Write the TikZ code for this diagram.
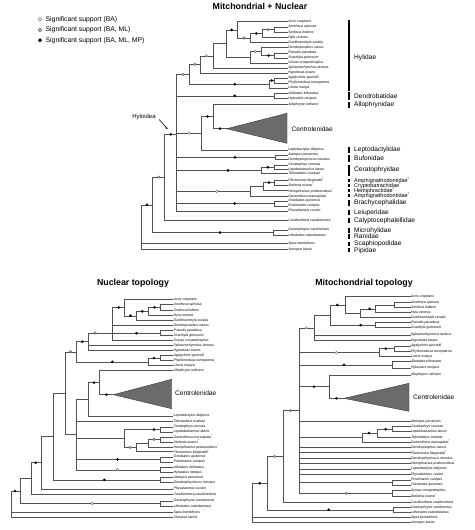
\documentclass[tikz,border=0pt]{standalone}
\usepackage{fontspec}
\setmainfont{Liberation Sans}
\usetikzlibrary{arrows.meta}
\definecolor{linec}{gray}{0.32}
\definecolor{trifill}{gray}{0.42}
\newcommand{\taxfont}{\fontsize{3.5}{4}\selectfont\itshape}
\newcommand{\famfont}{\fontsize{6.6}{7}\selectfont}
\newcommand{\famsmall}{\fontsize{5.5}{6}\selectfont}
\newcommand{\ttlfont}{\fontsize{8.8}{10}\selectfont\bfseries}
\newcommand{\legfont}{\fontsize{6.8}{8}\selectfont}
\newcommand{\TipN}[4]{\node[tip] (#1) at (#2,#3) {#4};}
\newcommand{\CoN}[3]{\coordinate (#1) at (#2,#3);}
\newcommand{\EdG}[2]{\draw[br] (#1) |- (#2);}
\newcommand{\DotB}[3]{\node[dotb] (#1) at (#2,#3) {};}
\newcommand{\DotG}[3]{\node[dotg] (#1) at (#2,#3) {};}
\newcommand{\DotW}[3]{\node[dotw] (#1) at (#2,#3) {};}
\newcommand{\FamN}[3]{\node[fam] (#1) at (354,#2) {#3};}
\newcommand{\FamS}[3]{\node[famsm] (#1) at (354,#2) {#3};}
\newcommand{\Ast}{\textsuperscript{*}}
\tikzset{
 br/.style={draw=linec, line width=0.5pt},
 tip/.style={anchor=west, inner sep=0.4pt, outer sep=0pt, font=\taxfont},
 fam/.style={anchor=west, inner sep=0pt, font=\famfont},
 famsm/.style={anchor=west, inner sep=0pt, font=\famsmall},
 bar/.style={draw=black, line width=1.5pt},
 dotb/.style={circle, fill=black, draw=black, line width=0.2pt, inner sep=0pt, minimum size=2.5pt},
 dotg/.style={circle, fill=gray!55, draw=black!70, line width=0.3pt, inner sep=0pt, minimum size=2.6pt},
 dotw/.style={circle, fill=white, draw=black!65, line width=0.35pt, inner sep=0pt, minimum size=2.7pt},
 tri/.style={fill=trifill, draw=black!80, line width=0.4pt},
 ttl/.style={font=\ttlfont, inner sep=0pt},
 leg/.style={anchor=west, font=\legfont, inner sep=0pt},
}
\begin{document}
\begin{tikzpicture}[x=1pt,y=-1pt]
\useasboundingbox (0,0) rectangle (474,530);

% ---------------- titles and legend ----------------
\node[ttl] (t1) at (260,6) {Mitchondrial + Nuclear};
\node[ttl] (t2) at (133,283.5) {Nuclear topology};
\node[ttl] (t3) at (364,283.5) {Mitochondrial topology};

\node[dotw, minimum size=3.8pt] (lg1) at (40,19.3) {};
\node[dotg, minimum size=3.8pt] (lg2) at (40,30) {};
\node[dotb, minimum size=3.8pt] (lg3) at (40,40.3) {};
\node[leg] (lt1) at (45.5,19.3) {Significant support (BA)};
\node[leg] (lt2) at (45.5,30) {Significant support (BA, ML)};
\node[leg] (lt3) at (45.5,40.3) {Significant support (BA, ML, MP)};

% ================= TOP TREE =================
\TipN{aAcr}{288}{21.7}{Acris crepitans}
\TipN{aAno}{288}{27}{Anotheca spinosa}
\TipN{aSmi}{288}{32.2}{Smilisca fodiens}
\TipN{aHyl}{288}{37.4}{Hyla cinerea}
\TipN{aDue}{288}{42.6}{Duellmanohyla soralia}
\TipN{aDen}{288}{47.7}{Dendropsophus nanus}
\TipN{aPse}{288}{53}{Pseudis paradoxa}
\TipN{aSca}{288}{57.9}{Scarthyla goinorum}
\TipN{aSci}{288}{62.8}{Scinax crospedospilus}
\TipN{aSph}{288}{68}{Sphaenorhynchus lacteus}
\TipN{aHyp}{288}{73}{Hypsiboas boans}
\TipN{aAga}{288}{77.9}{Agalychnis spurrelli}
\TipN{aPhy}{288}{83}{Phyllomedusa tomopterna}
\TipN{aLit}{288}{88}{Litoria manya}
\TipN{aAll}{288}{93.3}{Allobates trilineatus}
\TipN{aHyx}{288}{98.3}{Hyloxalus nexipus}
\TipN{aAlp}{288}{104.3}{Allophryne ruthveni}
\TipN{aLep}{288}{150}{Leptodactylus didymus}
\TipN{aAte}{288}{155}{Atelopus peruensis}
\TipN{aDdr}{288}{159.6}{Dendrophryniscus minutus}
\TipN{aCer}{288}{165}{Ceratophrys cornuta}
\TipN{aLpb}{288}{169.5}{Lepidobatrachus laevis}
\TipN{aTel}{288}{173.6}{Telmatobius truebae}
\TipN{aFle}{288}{180.2}{Flectonotus fitzgeraldi\Ast}
\TipN{aSte}{288}{185}{Stefania evansi\Ast}
\TipN{aHem}{288}{190.7}{Hemiphractus proboscideus\Ast}
\TipN{aGas}{288}{195.8}{Gastrotheca marsupiata\Ast}
\TipN{aOre}{288}{201}{Oreobates quixensis}
\TipN{aPri}{288}{206}{Pristimantis curtipes}
\TipN{aPhs}{288}{211}{Physalaemus cuvieri}
\TipN{aCau}{288}{220}{Caudiverbera caudiverbera}
\TipN{aGap}{288}{230}{Gastrophryne carolinensis}
\TipN{aLib}{288}{235}{Lithobates catesbeianus}
\TipN{aSpe}{288}{243.3}{Spea bombifrons}
\TipN{aXen}{288}{249.7}{Xenopus laevis}

\CoN{aAS}{274}{29.6}
\CoN{aASH}{262.3}{33.5}
\CoN{aASHD}{250}{38}
\CoN{aHylinae}{237.3}{29.9}
\CoN{aPS}{274}{55.5}
\CoN{aDPS}{261}{51.6}
\CoN{aB}{250}{57.2}
\CoN{aC}{226}{43.5}
\CoN{aSphn}{213.3}{55.8}
\CoN{aHypn}{200}{64.4}
\CoN{aAP}{274}{80.5}
\CoN{aAPL}{269.3}{84.2}
\CoN{aHylidae}{189.3}{74.3}
\CoN{aDendro}{274.7}{95.8}
\CoN{aAC}{213.3}{116.5}
\CoN{aACL}{201.7}{133.2}
\CoN{aBufo}{275}{157.3}
\CoN{aCL}{274}{167.2}
\CoN{aCLT}{261.7}{170.4}
\CoN{aFS}{274}{182.6}
\CoN{aFSH}{263.3}{186.6}
\CoN{aFSHG}{250.7}{191.2}
\CoN{aOP}{274}{203.5}
\CoN{aHyloidea}{176.7}{134.3}
\CoN{aN2}{164.7}{177.1}
\CoN{aMR}{273.3}{232.5}
\CoN{aN1}{152.7}{204.8}
\CoN{aRoot}{141}{230}
\CoN{aCap}{226.7}{128.7}
\CoN{aCt}{287}{113.3}
\CoN{aCb}{287}{143.3}

\EdG{aAS}{aAno.west} \EdG{aAS}{aSmi.west}
\EdG{aASH}{aAS} \EdG{aASH}{aHyl.west}
\EdG{aASHD}{aASH} \EdG{aASHD}{aDue.west}
\EdG{aHylinae}{aAcr.west} \EdG{aHylinae}{aASHD}
\EdG{aPS}{aPse.west} \EdG{aPS}{aSca.west}
\EdG{aDPS}{aDen.west} \EdG{aDPS}{aPS}
\EdG{aB}{aDPS} \EdG{aB}{aSci.west}
\EdG{aC}{aHylinae} \EdG{aC}{aB}
\EdG{aSphn}{aC} \EdG{aSphn}{aSph.west}
\EdG{aHypn}{aSphn} \EdG{aHypn}{aHyp.west}
\EdG{aAP}{aAga.west} \EdG{aAP}{aPhy.west}
\EdG{aAPL}{aAP} \EdG{aAPL}{aLit.west}
\EdG{aHylidae}{aHypn} \EdG{aHylidae}{aAPL}
\EdG{aDendro}{aAll.west} \EdG{aDendro}{aHyx.west}
\EdG{aAC}{aAlp.west} \EdG{aAC}{aCap}
\EdG{aACL}{aAC} \EdG{aACL}{aLep.west}
\EdG{aBufo}{aAte.west} \EdG{aBufo}{aDdr.west}
\EdG{aCL}{aCer.west} \EdG{aCL}{aLpb.west}
\EdG{aCLT}{aCL} \EdG{aCLT}{aTel.west}
\EdG{aFS}{aFle.west} \EdG{aFS}{aSte.west}
\EdG{aFSH}{aFS} \EdG{aFSH}{aHem.west}
\EdG{aFSHG}{aFSH} \EdG{aFSHG}{aGas.west}
\EdG{aOP}{aOre.west} \EdG{aOP}{aPri.west}
\EdG{aHyloidea}{aHylidae} \EdG{aHyloidea}{aDendro} \EdG{aHyloidea}{aACL}
\EdG{aHyloidea}{aBufo} \EdG{aHyloidea}{aCLT} \EdG{aHyloidea}{aFSHG}
\EdG{aHyloidea}{aOP} \EdG{aHyloidea}{aPhs.west}
\EdG{aN2}{aHyloidea} \EdG{aN2}{aCau.west}
\EdG{aMR}{aGap.west} \EdG{aMR}{aLib.west}
\EdG{aN1}{aN2} \EdG{aN1}{aMR}
\EdG{aRoot}{aN1} \EdG{aRoot}{aSpe.west} \EdG{aRoot}{aXen.west}
\filldraw[tri] (aCap) -- (aCt) -- (aCb) -- cycle;
\node[fam] (aCenL) at (291.5,128.7) {Centrolenidae};

\DotG{aq1}{268.3}{29.6}
\DotB{aq2}{256.3}{33.5}
\DotG{aq3}{244}{38}
\DotB{aq4}{231.6}{29.9}
\DotW{aq5}{255.5}{51.6}
\DotB{aq6}{268.5}{55.5}
\DotW{aq7}{206.7}{55.8}
\DotG{aq8}{194.7}{64.4}
\DotG{aq9}{183}{74.3}
\DotB{aq10}{234.7}{84.2}
\DotB{aq11}{271.7}{80.5}
\DotB{aq12}{234.7}{95.8}
\DotW{aq13}{189.3}{133.2}
\DotB{aq14}{207.5}{116.5}
\DotB{aq15}{220}{128.7}
\DotB{aq16}{170.7}{134.3}
\DotG{aq17}{158.7}{177.1}
\DotB{aq18}{147}{204.8}
\DotB{aq19}{235}{157.3}
\DotB{aq20}{228}{170.4}
\DotB{aq21}{267.8}{167.2}
\DotW{aq22}{216.7}{191.2}
\DotB{aq23}{269}{182.6}
\DotB{aq24}{234.7}{203.5}
\DotB{aq25}{220}{232.5}

% Hyloidea label
\node[font=\fontsize{6}{7}\selectfont, inner sep=0pt] (hyLbl) at (144,116.5) {Hyloidea};
\CoN{hyA}{159.3}{119.6}
\CoN{hyB}{167.6}{129.2}
\draw[-{Stealth[length=2.6pt,width=2.2pt]}, line width=0.6pt] (hyA) -- (hyB);

% family bars and labels
\draw[bar, line width=1.9pt] (349,19.5) -- (349,90.5);
\draw[bar] (349,91.8) -- (349,100);
\draw[bar] (349,102.3) -- (349,107.5);
\draw[bar] (349,147.3) -- (349,152.5);
\draw[bar] (349,155) -- (349,161.5);
\draw[bar] (349,164.5) -- (349,175.5);
\draw[bar] (349,178.6) -- (349,181.8);
\draw[bar] (349,183.8) -- (349,186.8);
\draw[bar] (349,189.2) -- (349,192.2);
\draw[bar] (349,194.3) -- (349,197.3);
\draw[bar] (349,200) -- (349,206);
\draw[bar] (349,209.8) -- (349,215);
\draw[bar] (349,218.3) -- (349,222.8);
\draw[bar] (349,228.2) -- (349,232.7);
\draw[bar] (349,234.3) -- (349,238.5);
\draw[bar] (349,242.2) -- (349,246.2);
\draw[bar] (349,248.3) -- (349,252.3);
\FamN{fHyl}{57.7}{Hylidae}
\FamN{fDen}{96.3}{Dendrobatidae}
\FamN{fAlp}{105}{Allophrynidae}
\FamN{fLep}{150}{Leptodactylidae}
\FamN{fBuf}{158.2}{Bufonidae}
\FamN{fCer}{170}{Ceratophryidae}
\FamS{fAm1}{180.3}{Amphignathodontidae\Ast}
\FamS{fCry}{185.3}{Cryptobatrachidae\Ast}
\FamS{fHem}{190.7}{Hemiphractidae\Ast}
\FamS{fAm2}{195.7}{Amphignathodontidae\Ast}
\FamN{fBra}{202.8}{Brachycephalidae}
\FamN{fLei}{212.5}{Leiuperidae}
\FamN{fCal}{220.7}{Calyptocephalellidae}
\FamN{fMic}{230.3}{Microhylidae}
\FamN{fRan}{236.5}{Ranidae}
\FamN{fSca}{244.2}{Scaphiopodidae}
\FamN{fPip}{250.3}{Pipidae}

% ================= BOTTOM-LEFT TREE (nuclear) =================
\TipN{bAcr}{173.3}{299.3}{Acris crepitans}
\TipN{bAno}{173.3}{304.7}{Anotheca spinosa}
\TipN{bSmi}{173.3}{310}{Smilisca fodiens}
\TipN{bHyl}{173.3}{315.3}{Hyla cinerea}
\TipN{bDue}{173.3}{320.3}{Duellmanohyla soralia}
\TipN{bDen}{173.3}{325.3}{Dendropsophus nanus}
\TipN{bPse}{173.3}{330.7}{Pseudis paradoxa}
\TipN{bSca}{173.3}{335.7}{Scarthyla goinorum}
\TipN{bSci}{173.3}{340.7}{Scinax crospedospilus}
\TipN{bSph}{173.3}{345.7}{Sphaenorhynchus lacteus}
\TipN{bHyp}{173.3}{350.5}{Hypsiboas boans}
\TipN{bAga}{173.3}{355.5}{Agalychnis spurrelli}
\TipN{bPhy}{173.3}{360.7}{Phyllomedusa tomopterna}
\TipN{bLit}{173.3}{365.7}{Litoria manya}
\TipN{bAlp}{173.3}{370.7}{Allophryne ruthveni}
\TipN{bLep}{173.3}{416}{Leptodactylus didymus}
\TipN{bTel}{173.3}{421}{Telmatobius truebae}
\TipN{bCer}{173.3}{427}{Ceratophrys cornuta}
\TipN{bLpb}{173.3}{432}{Lepidobatrachus laevis}
\TipN{bGas}{173.3}{436.8}{Gastrotheca marsupiata\Ast}
\TipN{bSte}{173.3}{442}{Stefania evansi\Ast}
\TipN{bHem}{173.3}{446.8}{Hemiphractus proboscideus\Ast}
\TipN{bFle}{173.3}{451.7}{Flectonotus fitzgeraldi\Ast}
\TipN{bOre}{173.3}{456.8}{Oreobates quixensis}
\TipN{bPri}{173.3}{462}{Pristimantis curtipes}
\TipN{bAll}{173.3}{467.2}{Allobates trilineatus}
\TipN{bHyx}{173.3}{472.3}{Hyloxalus nexipus}
\TipN{bAte}{173.3}{477.5}{Atelopus peruensis}
\TipN{bDdr}{173.3}{482.4}{Dendrophryniscus minutus}
\TipN{bPhs}{173.3}{488.8}{Physalaemus cuvieri}
\TipN{bCau}{173.3}{494.5}{Caudiverbera caudiverbera}
\TipN{bGap}{173.3}{501}{Gastrophryne carolinensis}
\TipN{bLib}{173.3}{506.3}{Lithobates catesbeianus}
\TipN{bSpe}{173.3}{512.3}{Spea bombifrons}
\TipN{bXen}{173.3}{517.3}{Xenopus laevis}

\CoN{bAS}{160}{307.3}
\CoN{bASH}{148.3}{311.3}
\CoN{bASHD}{136.3}{315.8}
\CoN{bHylinae}{124.3}{307.5}
\CoN{bPS}{160}{333.2}
\CoN{bHn}{112.3}{333}
\CoN{b88a}{88.3}{341.7}
\CoN{bAP}{160}{358.1}
\CoN{bAPL}{148.3}{361.9}
\CoN{b76a}{76.7}{351.8}
\CoN{bAC}{99.3}{382.7}
\CoN{b88b}{88.3}{399.3}
\CoN{bCL}{160}{429.5}
\CoN{bGS}{160}{439.4}
\CoN{bGSH}{148.3}{443.1}
\CoN{bH1}{136.3}{447.4}
\CoN{bC1}{124.3}{438.5}
\CoN{bOP}{160}{459.4}
\CoN{bDb}{160}{469.8}
\CoN{bS}{76.7}{434.5}
\CoN{bR}{65}{393.2}
\CoN{bBufo}{160}{479.9}
\CoN{bQ}{53.3}{436.5}
\CoN{bP}{41.7}{462.7}
\CoN{bN2}{31.7}{478.6}
\CoN{bMR}{160}{503.6}
\CoN{bN1}{20.7}{491.1}
\CoN{bRoot}{11}{504}
\CoN{bCap}{113.3}{394.7}
\CoN{bCt}{171.7}{379.3}
\CoN{bCb}{171.7}{408.7}

\EdG{bAS}{bAno.west} \EdG{bAS}{bSmi.west}
\EdG{bASH}{bAS} \EdG{bASH}{bHyl.west}
\EdG{bASHD}{bASH} \EdG{bASHD}{bDue.west}
\EdG{bHylinae}{bAcr.west} \EdG{bHylinae}{bASHD}
\EdG{bPS}{bPse.west} \EdG{bPS}{bSca.west}
\EdG{bHn}{bHylinae} \EdG{bHn}{bDen.west} \EdG{bHn}{bPS} \EdG{bHn}{bSci.west}
\EdG{b88a}{bHn} \EdG{b88a}{bSph.west} \EdG{b88a}{bHyp.west}
\EdG{bAP}{bAga.west} \EdG{bAP}{bPhy.west}
\EdG{bAPL}{bAP} \EdG{bAPL}{bLit.west}
\EdG{b76a}{b88a} \EdG{b76a}{bAPL}
\EdG{bAC}{bAlp.west} \EdG{bAC}{bCap}
\EdG{b88b}{bAC} \EdG{b88b}{bLep.west}
\EdG{bCL}{bCer.west} \EdG{bCL}{bLpb.west}
\EdG{bGS}{bGas.west} \EdG{bGS}{bSte.west}
\EdG{bGSH}{bGS} \EdG{bGSH}{bHem.west}
\EdG{bH1}{bGSH} \EdG{bH1}{bFle.west}
\EdG{bC1}{bCL} \EdG{bC1}{bH1}
\EdG{bOP}{bOre.west} \EdG{bOP}{bPri.west}
\EdG{bDb}{bAll.west} \EdG{bDb}{bHyx.west}
\EdG{bS}{b88b} \EdG{bS}{bTel.west} \EdG{bS}{bC1} \EdG{bS}{bOP} \EdG{bS}{bDb}
\EdG{bR}{b76a} \EdG{bR}{bS}
\EdG{bBufo}{bAte.west} \EdG{bBufo}{bDdr.west}
\EdG{bQ}{bR} \EdG{bQ}{bBufo}
\EdG{bP}{bQ} \EdG{bP}{bPhs.west}
\EdG{bN2}{bP} \EdG{bN2}{bCau.west}
\EdG{bMR}{bGap.west} \EdG{bMR}{bLib.west}
\EdG{bN1}{bN2} \EdG{bN1}{bMR}
\EdG{bRoot}{bN1} \EdG{bRoot}{bSpe.west} \EdG{bRoot}{bXen.west}
\filldraw[tri] (bCap) -- (bCt) -- (bCb) -- cycle;
\node[fam] (bCenL) at (175,393.3) {Centrolenidae};

\DotB{bq1}{154.5}{307.3}
\DotB{bq2}{142.3}{311.3}
\DotB{bq3}{130.5}{315.8}
\DotB{bq4}{118.7}{307.5}
\DotB{bq5}{136.5}{333.2}
\DotG{bq6}{95}{333}
\DotB{bq7}{82.3}{341.7}
\DotB{bq8}{154}{358.1}
\DotB{bq9}{112.3}{361.9}
\DotG{bq10}{70.7}{351.8}
\DotB{bq11}{94}{382.7}
\DotB{bq12}{106.5}{394.7}
\DotB{bq13}{154}{429.5}
\DotG{bq14}{154}{439.4}
\DotG{bq15}{130.3}{447.4}
\DotB{bq16}{117.5}{459.4}
\DotW{bq17}{117.5}{469.8}
\DotB{bq18}{104.3}{479.9}
\DotB{bq19}{35.7}{462.7}
\DotW{bq20}{92.3}{503.6}
\DotB{bq21}{15}{491.1}

% ================= BOTTOM-RIGHT TREE (mitochondrial) =================
\TipN{cAcr}{410.7}{296.7}{Acris crepitans}
\TipN{cAno}{410.7}{302.3}{Anotheca spinosa}
\TipN{cSmi}{410.7}{307.5}{Smilisca fodiens}
\TipN{cHyl}{410.7}{312.7}{Hyla cinerea}
\TipN{cDue}{410.7}{317.7}{Duellmanohyla soralia}
\TipN{cPse}{410.7}{322.7}{Pseudis paradoxa}
\TipN{cSca}{410.7}{327.5}{Scarthyla goinorum}
\TipN{cSph}{410.7}{335}{Sphaenorhynchus lacteus}
\TipN{cHyp}{410.7}{340.7}{Hypsiboas boans}
\TipN{cAga}{410.7}{346}{Agalychnis spurrelli}
\TipN{cPhy}{410.7}{351.3}{Phyllomedusa tomopterna}
\TipN{cLit}{410.7}{356.7}{Litoria manya}
\TipN{cAll}{410.7}{361.7}{Allobates trilineatus}
\TipN{cHyx}{410.7}{368}{Hyloxalus nexipus}
\TipN{cAlp}{410.7}{375}{Allophryne ruthveni}
\TipN{cAte}{410.7}{421.7}{Atelopus peruensis}
\TipN{cCer}{410.7}{426.7}{Ceratophrys cornuta}
\TipN{cLpb}{410.7}{431.7}{Lepidobatrachus laevis}
\TipN{cTel}{410.7}{437}{Telmatobius truebae}
\TipN{cGas}{410.7}{442.3}{Gastrotheca marsupiata\Ast}
\TipN{cDen}{410.7}{447.3}{Dendropsophus nanus}
\TipN{cFle}{410.7}{452.7}{Flectonotus fitzgeraldi\Ast}
\TipN{cDdr}{410.7}{458.2}{Dendrophryniscus minutus}
\TipN{cHem}{410.7}{463.3}{Hemiphractus proboscideus\Ast}
\TipN{cLep}{410.7}{469}{Leptodactylus didymus}
\TipN{cPhs}{410.7}{474.3}{Physalaemus cuvieri}
\TipN{cPri}{410.7}{480}{Pristimantis curtipes}
\TipN{cOre}{410.7}{485}{Oreobates quixensis}
\TipN{cSci}{410.7}{490.7}{Scinax crospedospilus}
\TipN{cSte}{410.7}{496}{Stefania evansi\Ast}
\TipN{cCau}{410.7}{502.3}{Caudiverbera caudiverbera}
\TipN{cGap}{410.7}{507.3}{Gastrophryne carolinensis}
\TipN{cLib}{410.7}{512.3}{Lithobates catesbeianus}
\TipN{cSpe}{410.7}{517.7}{Spea bombifrons}
\TipN{cXen}{410.7}{522.7}{Xenopus laevis}

\CoN{cAS}{394}{305}
\CoN{cASH}{375.7}{308.9}
\CoN{cX1}{360.7}{313.3}
\CoN{cHylinae}{345.7}{305}
\CoN{cPS}{375.7}{325.1}
\CoN{cHPS}{330.7}{315}
\CoN{cY}{314}{327.9}
\CoN{cAP}{394}{348.7}
\CoN{cPP}{379}{352.7}
\CoN{cDb}{392.3}{364.9}
\CoN{cAC}{329.7}{386.7}
\CoN{cCL}{392.3}{429.2}
\CoN{cCLT}{377.3}{433.1}
\CoN{cG}{362.3}{437.7}
\CoN{cOP}{392.3}{482.5}
\CoN{cSS}{392.3}{493.4}
\CoN{cZ}{299}{410.6}
\CoN{cN2}{283.3}{456.5}
\CoN{cMR}{393.3}{509.8}
\CoN{cN1}{267.3}{483.2}
\CoN{cRoot}{252.3}{500}
\CoN{cCap}{344}{398.3}
\CoN{cCt}{409}{383.3}
\CoN{cCb}{409}{411.3}

\EdG{cAS}{cAno.west} \EdG{cAS}{cSmi.west}
\EdG{cASH}{cAS} \EdG{cASH}{cHyl.west}
\EdG{cX1}{cASH} \EdG{cX1}{cDue.west}
\EdG{cHylinae}{cAcr.west} \EdG{cHylinae}{cX1}
\EdG{cPS}{cPse.west} \EdG{cPS}{cSca.west}
\EdG{cHPS}{cHylinae} \EdG{cHPS}{cPS}
\EdG{cY}{cHPS} \EdG{cY}{cSph.west} \EdG{cY}{cHyp.west}
\EdG{cAP}{cAga.west} \EdG{cAP}{cPhy.west}
\EdG{cPP}{cAP} \EdG{cPP}{cLit.west}
\EdG{cDb}{cAll.west} \EdG{cDb}{cHyx.west}
\EdG{cAC}{cAlp.west} \EdG{cAC}{cCap}
\EdG{cCL}{cCer.west} \EdG{cCL}{cLpb.west}
\EdG{cCLT}{cCL} \EdG{cCLT}{cTel.west}
\EdG{cG}{cCLT} \EdG{cG}{cGas.west}
\EdG{cOP}{cPri.west} \EdG{cOP}{cOre.west}
\EdG{cSS}{cSci.west} \EdG{cSS}{cSte.west}
\EdG{cZ}{cY} \EdG{cZ}{cPP} \EdG{cZ}{cDb} \EdG{cZ}{cAC} \EdG{cZ}{cAte.west}
\EdG{cZ}{cG} \EdG{cZ}{cDen.west} \EdG{cZ}{cFle.west} \EdG{cZ}{cDdr.west}
\EdG{cZ}{cHem.west} \EdG{cZ}{cLep.west} \EdG{cZ}{cPhs.west} \EdG{cZ}{cOP} \EdG{cZ}{cSS}
\EdG{cN2}{cZ} \EdG{cN2}{cCau.west}
\EdG{cMR}{cGap.west} \EdG{cMR}{cLib.west}
\EdG{cN1}{cN2} \EdG{cN1}{cMR}
\EdG{cRoot}{cN1} \EdG{cRoot}{cSpe.west} \EdG{cRoot}{cXen.west}
\filldraw[tri] (cCap) -- (cCt) -- (cCb) -- cycle;
\node[fam] (cCenL) at (413,397) {Centrolenidae};

\DotB{cq1}{369.7}{308.9}
\DotB{cq2}{337.3}{305}
\DotB{cq3}{360.7}{325.1}
\DotW{cq4}{306.3}{327.9}
\DotB{cq5}{385.7}{348.7}
\DotW{cq6}{336.3}{352.7}
\DotB{cq7}{344}{364.9}
\DotB{cq8}{314}{386.7}
\DotB{cq9}{336.5}{398.3}
\DotB{cq10}{385.7}{429.2}
\DotB{cq11}{369}{433.1}
\DotG{cq12}{346.3}{493.4}
\DotG{cq13}{290.5}{410.6}
\DotG{cq14}{274.7}{456.5}
\DotB{cq15}{328.7}{509.8}
\DotB{cq16}{259.7}{483.2}
\end{tikzpicture}
\end{document}
